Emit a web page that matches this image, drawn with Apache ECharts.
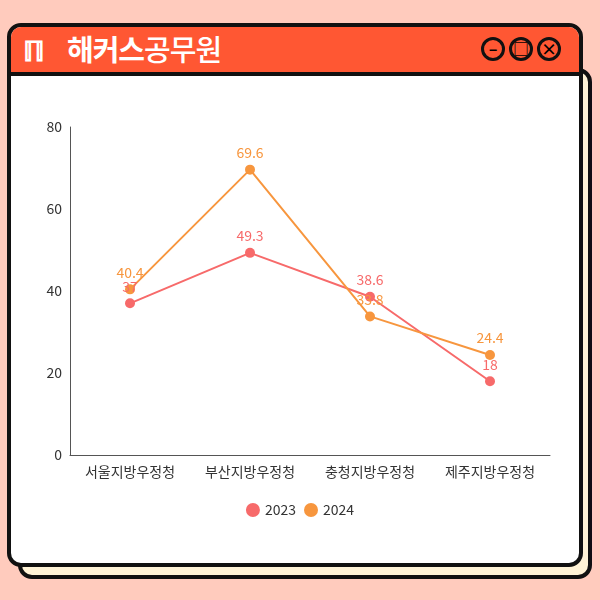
<!DOCTYPE html>
<html><head><meta charset="utf-8">
<script src="https://cdn.jsdelivr.net/npm/echarts@6/dist/echarts.min.js"></script>
<style>
body{margin:0;width:600px;height:600px;background:#ffcbbd;position:relative;overflow:hidden;font-family:"Noto Sans CJK KR",sans-serif}
.back{position:absolute;left:18px;top:68px;width:574px;height:511px;background:#fff3d6;border:4px solid #111;border-radius:14px;box-sizing:border-box}
.win{position:absolute;left:7px;top:23px;width:576px;height:544px;background:#fff;border:4px solid #111;border-radius:14px;box-sizing:border-box;overflow:hidden}
.bar{height:45px;background:#ff5733;border-bottom:4px solid #111;position:relative}
.logo{position:absolute;left:56px;top:0px;color:#fff;font-size:29px;font-weight:bold;letter-spacing:-1px}
.logo span{font-weight:500}
.ic{position:absolute;left:12px;top:8px;width:32px;height:28px;color:#fff;font-size:28px;font-weight:bold;line-height:28px}
.btn{position:absolute;top:10px;width:24px;height:24px;border:3px solid #111;border-radius:50%;box-sizing:border-box;font-size:16px;line-height:17px;text-align:center;font-weight:bold}
#c{position:absolute;left:0;top:0;width:600px;height:600px}
</style></head><body>
<div class="back"></div>
<div class="win"><div class="bar"><div class="ic">ℿ</div><div class="logo">해커스<span>공무원</span></div>
<div class="btn" style="left:470px">–</div><div class="btn" style="left:498px">□</div><div class="btn" style="left:526px">×</div></div></div>
<div id="c"></div>
<script>
const categories=["서울지방우정청","부산지방우정청","충청지방우정청","제주지방우정청"];
const v2023=[37,49.3,38.6,18];
const v2024=[40.4,69.6,33.8,24.4];
const yTicks=[0,20,40,60,80];
const ch=echarts.init(document.getElementById('c'));
const lab=c=>({show:true,position:'top',color:c,fontSize:14,fontFamily:'Noto Sans CJK KR'});
ch.setOption({
 textStyle:{fontFamily:'Noto Sans CJK KR'},
 grid:{left:70,right:50,top:127,bottom:145},
 legend:{bottom:78,icon:'circle',itemWidth:14,itemHeight:14,textStyle:{fontSize:14,color:'#333'},data:['2023','2024']},
 xAxis:{type:'category',data:categories,axisTick:{show:false},axisLine:{lineStyle:{color:'#555'}},axisLabel:{interval:0,fontSize:14,color:'#333',margin:10}},
 yAxis:{type:'value',min:yTicks[0],max:yTicks[yTicks.length-1],interval:20,splitLine:{show:false},axisLine:{show:true,lineStyle:{color:'#555'}},axisLabel:{fontSize:14,color:'#333'}},
 series:[
  {name:'2023',type:'line',data:v2023,color:'#f76a6a',symbol:'circle',symbolSize:10,lineStyle:{width:2},label:lab('#f76a6a')},
  {name:'2024',type:'line',data:v2024,color:'#f7963e',symbol:'circle',symbolSize:10,lineStyle:{width:2},label:lab('#f7963e')}
 ]
});
</script></body></html>
